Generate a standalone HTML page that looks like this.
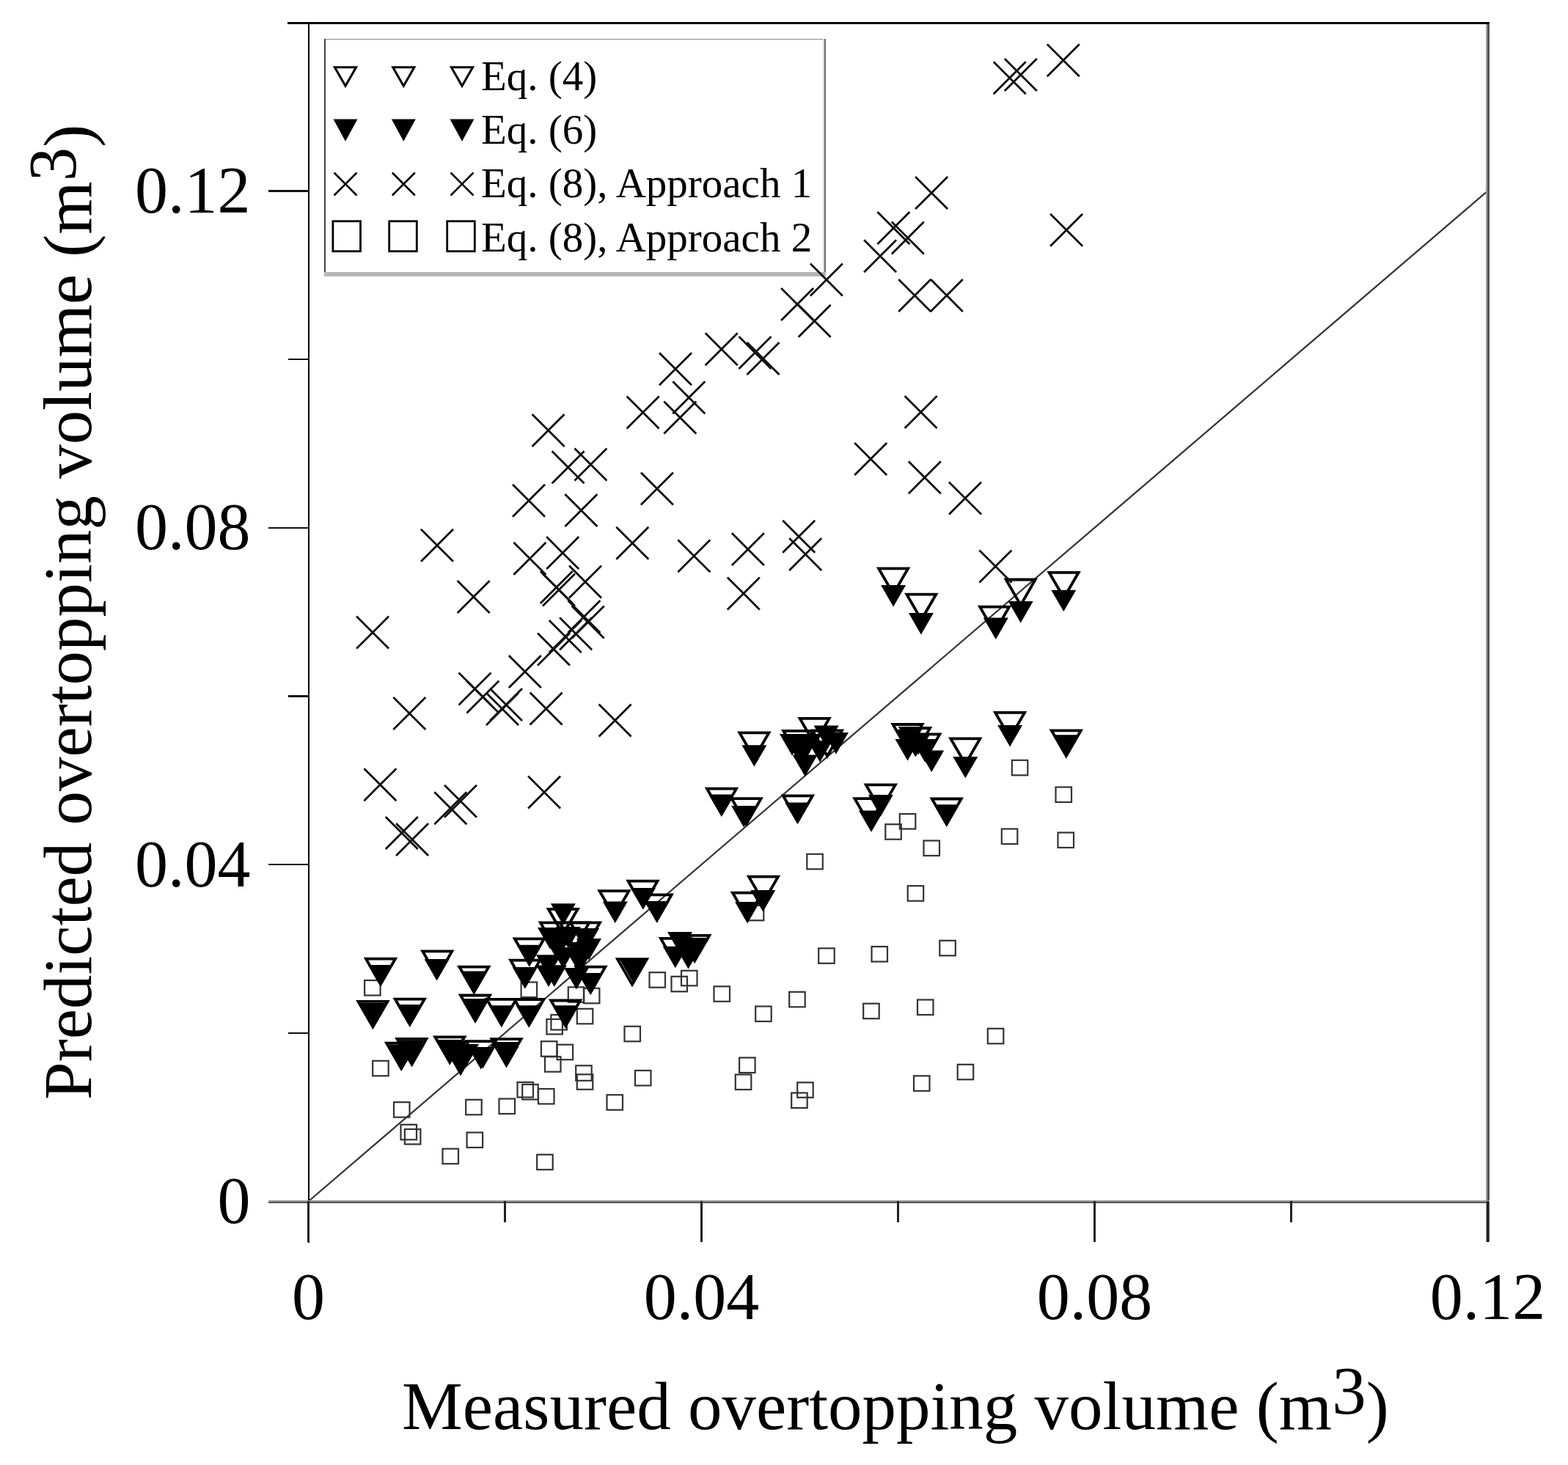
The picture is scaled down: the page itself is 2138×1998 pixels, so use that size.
<!DOCTYPE html>
<html><head><meta charset="utf-8"><title>Predicted vs measured overtopping volume</title>
<style>html,body{margin:0;padding:0;background:#fff;}body{width:2138px;height:1998px;overflow:hidden;}svg{display:block;}</style>
</head><body>
<svg width="2138" height="1998" viewBox="0 0 2138 1998">
<rect x="0" y="0" width="2138" height="1998" fill="#fff"/>
<g shape-rendering="crispEdges">
<rect x="443" y="53" width="682" height="321" fill="#fff" stroke="none"/>
<rect x="442" y="52.5" width="683" height="1.5" fill="#888"/>
<rect x="441.5" y="53" width="2.2" height="321" fill="#444"/>
<rect x="1121.5" y="53" width="2.3" height="320" fill="#d8d8d8"/>
<rect x="1123.8" y="53" width="2.6" height="320" fill="#6a6a6a"/>
<rect x="442" y="371.3" width="684" height="5.2" fill="#b6b6b6"/>
</g>
<path d="M456.4 91.8H485.6L471.0 117.2Z" fill="none" stroke="#000" stroke-width="3"/>
<path d="M535.7 91.8H564.9L550.3 117.2Z" fill="none" stroke="#000" stroke-width="3"/>
<path d="M615.4 91.8H644.6L630.0 117.2Z" fill="none" stroke="#000" stroke-width="3"/>
<path d="M454.5 162.6H487.5L471.0 192.8Z" fill="#000"/>
<path d="M533.8 162.6H566.8L550.3 192.8Z" fill="#000"/>
<path d="M613.5 162.6H646.5L630.0 192.8Z" fill="#000"/>
<path d="M455.5 235.5L486.5 266.5M455.5 266.5L486.5 235.5" stroke="#000" stroke-width="2.6" fill="none"/>
<path d="M534.8 235.5L565.8 266.5M534.8 266.5L565.8 235.5" stroke="#000" stroke-width="2.6" fill="none"/>
<path d="M614.5 235.5L645.5 266.5M614.5 266.5L645.5 235.5" stroke="#000" stroke-width="2.6" fill="none"/>
<rect x="453.9" y="301.7" width="37.6" height="41" fill="none" stroke="#000" stroke-width="2.8"/>
<rect x="530.7" y="301.7" width="37.6" height="41" fill="none" stroke="#000" stroke-width="2.8"/>
<rect x="609.7" y="301.7" width="37.6" height="41" fill="none" stroke="#000" stroke-width="2.8"/>
<text x="656" y="122.9" font-family="'Liberation Serif', 'Times New Roman', serif" font-size="57" fill="#000">Eq. (4)</text>
<text x="656" y="195.8" font-family="'Liberation Serif', 'Times New Roman', serif" font-size="57" fill="#000">Eq. (6)</text>
<text x="656" y="269.3" font-family="'Liberation Serif', 'Times New Roman', serif" font-size="57" fill="#000">Eq. (8), Approach 1</text>
<text x="656" y="343" font-family="'Liberation Serif', 'Times New Roman', serif" font-size="57" fill="#000">Eq. (8), Approach 2</text>
<line x1="420.5" y1="1638.5" x2="2028.5" y2="260.3" stroke="#333" stroke-width="2.2"/>
<g fill="none" stroke="#333" stroke-width="2.2"><rect x="1379.8" y="1036.8" width="21.5" height="20.5"/><rect x="1439.5" y="1073.5" width="21.5" height="20.5"/><rect x="1226.8" y="1110.0" width="21.5" height="20.5"/><rect x="1207.3" y="1124.2" width="21.5" height="20.5"/><rect x="1259.5" y="1146.5" width="21.5" height="20.5"/><rect x="1365.8" y="1130.5" width="21.5" height="20.5"/><rect x="1442.5" y="1135.5" width="21.5" height="20.5"/><rect x="1237.7" y="1208.2" width="21.5" height="20.5"/><rect x="1100.3" y="1164.8" width="21.5" height="20.5"/><rect x="1019.8" y="1234.8" width="21.5" height="20.5"/><rect x="1116.2" y="1293.3" width="21.5" height="20.5"/><rect x="1188.5" y="1291.0" width="21.5" height="20.5"/><rect x="973.5" y="1345.3" width="21.5" height="20.5"/><rect x="1076.2" y="1352.8" width="21.5" height="20.5"/><rect x="1030.2" y="1372.5" width="21.5" height="20.5"/><rect x="1177.2" y="1368.7" width="21.5" height="20.5"/><rect x="1251.0" y="1363.5" width="21.5" height="20.5"/><rect x="1008.1" y="1442.5" width="21.5" height="20.5"/><rect x="1281.3" y="1282.8" width="21.5" height="20.5"/><rect x="1346.8" y="1402.8" width="21.5" height="20.5"/><rect x="1002.8" y="1465.5" width="21.5" height="20.5"/><rect x="1087.2" y="1476.3" width="21.5" height="20.5"/><rect x="1079.2" y="1490.5" width="21.5" height="20.5"/><rect x="1246.0" y="1467.3" width="21.5" height="20.5"/><rect x="1305.7" y="1451.8" width="21.5" height="20.5"/><rect x="885.5" y="1326.2" width="21.5" height="20.5"/><rect x="915.5" y="1331.8" width="21.5" height="20.5"/><rect x="929.0" y="1323.8" width="21.5" height="20.5"/><rect x="710.6" y="1339.5" width="21.5" height="20.5"/><rect x="774.8" y="1346.3" width="21.5" height="20.5"/><rect x="795.9" y="1347.8" width="21.5" height="20.5"/><rect x="745.4" y="1390.0" width="21.5" height="20.5"/><rect x="751.4" y="1384.0" width="21.5" height="20.5"/><rect x="786.8" y="1375.8" width="21.5" height="20.5"/><rect x="851.5" y="1399.8" width="21.5" height="20.5"/><rect x="737.9" y="1420.2" width="21.5" height="20.5"/><rect x="759.6" y="1424.7" width="21.5" height="20.5"/><rect x="743.0" y="1441.2" width="21.5" height="20.5"/><rect x="785.2" y="1453.3" width="21.5" height="20.5"/><rect x="786.8" y="1465.3" width="21.5" height="20.5"/><rect x="866.0" y="1460.0" width="21.5" height="20.5"/><rect x="705.5" y="1476.0" width="21.5" height="20.5"/><rect x="712.2" y="1479.0" width="21.5" height="20.5"/><rect x="734.0" y="1485.0" width="21.5" height="20.5"/><rect x="680.5" y="1498.5" width="21.5" height="20.5"/><rect x="827.5" y="1493.2" width="21.5" height="20.5"/><rect x="732.2" y="1574.7" width="21.5" height="20.5"/><rect x="497.1" y="1337.0" width="21.5" height="20.5"/><rect x="508.2" y="1446.8" width="21.5" height="20.5"/><rect x="537.0" y="1503.2" width="21.5" height="20.5"/><rect x="635.2" y="1499.8" width="21.5" height="20.5"/><rect x="546.5" y="1533.8" width="21.5" height="20.5"/><rect x="551.9" y="1540.0" width="21.5" height="20.5"/><rect x="636.6" y="1544.5" width="21.5" height="20.5"/><rect x="603.5" y="1566.7" width="21.5" height="20.5"/></g>
<g fill="none" stroke="#000" stroke-width="3.8" stroke-linejoin="miter" stroke-miterlimit="4"><path d="M1198.1 775.4H1238.1L1218.1 810.0Z"/><path d="M1236.3 810.7H1276.3L1256.3 845.3Z"/><path d="M1371.7 790.5H1411.7L1391.7 825.1Z"/><path d="M1336.1 827.6H1376.1L1356.1 862.2Z"/><path d="M1430.6 780.8H1470.6L1450.6 815.4Z"/><path d="M1357.1 971.9H1397.1L1377.1 1006.5Z"/><path d="M1296.3 1007.4H1336.3L1316.3 1042.0Z"/><path d="M1433.8 996.3H1473.8L1453.8 1030.9Z"/><path d="M1270.7 1089.5H1310.7L1290.7 1124.1Z"/><path d="M1217.5 988.0H1257.5L1237.5 1022.6Z"/><path d="M1228.1 993.0H1268.1L1248.1 1027.6Z"/><path d="M1241.3 1001.4H1281.3L1261.3 1036.0Z"/><path d="M1180.8 1070.4H1220.8L1200.8 1105.0Z"/><path d="M1008.4 999.4H1048.4L1028.4 1034.0Z"/><path d="M1090.6 979.9H1130.6L1110.6 1014.5Z"/><path d="M1068.3 996.9H1108.3L1088.3 1031.5Z"/><path d="M1108.0 996.5H1148.0L1128.0 1031.1Z"/><path d="M964.0 1075.6H1004.0L984.0 1110.2Z"/><path d="M997.7 1089.1H1037.7L1017.7 1123.7Z"/><path d="M1067.9 1085.3H1107.9L1087.9 1119.9Z"/><path d="M1165.4 1089.1H1205.4L1185.4 1123.7Z"/><path d="M1021.0 1195.7H1061.0L1041.0 1230.3Z"/><path d="M999.0 1217.6H1039.0L1019.0 1252.2Z"/><path d="M856.5 1201.6H896.5L876.5 1236.2Z"/><path d="M817.5 1215.2H857.5L837.5 1249.8Z"/><path d="M875.7 1220.4H915.7L895.7 1255.0Z"/><path d="M900.9 1279.9H940.9L920.9 1314.5Z"/><path d="M927.2 1275.9H967.2L947.2 1310.5Z"/><path d="M842.0 1308.2H882.0L862.0 1342.8Z"/><path d="M747.7 1239.8H787.7L767.7 1274.4Z"/><path d="M736.9 1258.3H776.9L756.9 1292.9Z"/><path d="M763.4 1258.3H803.4L783.4 1292.9Z"/><path d="M778.0 1258.3H818.0L798.0 1292.9Z"/><path d="M701.8 1280.3H741.8L721.8 1314.9Z"/><path d="M696.2 1309.6H736.2L716.2 1344.2Z"/><path d="M785.4 1318.6H825.4L805.4 1353.2Z"/><path d="M701.5 1363.0H741.5L721.5 1397.6Z"/><path d="M663.8 1362.9H703.8L683.8 1397.5Z"/><path d="M751.2 1364.5H791.2L771.2 1399.1Z"/><path d="M670.5 1417.2H710.5L690.5 1451.8Z"/><path d="M499.0 1307.7H539.0L519.0 1342.3Z"/><path d="M576.3 1297.4H616.3L596.3 1332.0Z"/><path d="M626.3 1318.7H666.3L646.3 1353.3Z"/><path d="M488.4 1365.9H528.4L508.4 1400.5Z"/><path d="M538.8 1362.6H578.8L558.8 1397.2Z"/><path d="M628.0 1357.5H668.0L648.0 1392.1Z"/><path d="M541.4 1416.9H581.4L561.4 1451.5Z"/><path d="M527.1 1422.7H567.1L547.1 1457.3Z"/><path d="M593.3 1414.3H633.3L613.3 1448.9Z"/><path d="M635.7 1420.1H675.7L655.7 1454.7Z"/></g>
<g fill="#000"><path d="M1201.1 798.0H1235.1L1218.1 827.4Z"/><path d="M1238.9 836.0H1272.9L1255.9 865.4Z"/><path d="M1374.7 820.0H1408.7L1391.7 849.4Z"/><path d="M1340.8 842.6H1374.8L1357.8 872.0Z"/><path d="M1433.3 804.7H1467.3L1450.3 834.1Z"/><path d="M1360.1 989.0H1394.1L1377.1 1018.4Z"/><path d="M1299.3 1031.9H1333.3L1316.3 1061.3Z"/><path d="M1436.8 1002.3H1470.8L1453.8 1031.7Z"/><path d="M1273.7 1097.3H1307.7L1290.7 1126.7Z"/><path d="M1220.5 1008.0H1254.5L1237.5 1037.4Z"/><path d="M1231.3 1003.0H1265.3L1248.3 1032.4Z"/><path d="M1253.2 1023.5H1287.2L1270.2 1052.9Z"/><path d="M1011.4 1016.2H1045.4L1028.4 1045.6Z"/><path d="M1071.3 1007.0H1105.3L1088.3 1036.4Z"/><path d="M1080.7 1029.5H1114.7L1097.7 1058.9Z"/><path d="M1109.6 989.5H1143.6L1126.6 1018.9Z"/><path d="M966.2 1083.4H1000.2L983.2 1112.8Z"/><path d="M997.2 1099.0H1031.2L1014.2 1128.4Z"/><path d="M1070.2 1094.4H1104.2L1087.2 1123.8Z"/><path d="M1171.0 1105.4H1205.0L1188.0 1134.8Z"/><path d="M1023.3 1214.0H1057.3L1040.3 1243.4Z"/><path d="M1002.1 1230.0H1036.1L1019.1 1259.4Z"/><path d="M860.0 1211.0H894.0L877.0 1240.4Z"/><path d="M821.8 1229.5H855.8L838.8 1258.9Z"/><path d="M878.9 1228.9H912.9L895.9 1258.3Z"/><path d="M910.0 1271.0H944.0L927.0 1300.4Z"/><path d="M903.8 1290.8H937.8L920.8 1320.2Z"/><path d="M921.5 1292.0H955.5L938.5 1321.4Z"/><path d="M845.7 1310.0H879.7L862.7 1339.4Z"/><path d="M750.9 1232.3H784.9L767.9 1261.7Z"/><path d="M758.0 1264.0H792.0L775.0 1293.4Z"/><path d="M783.0 1266.0H817.0L800.0 1295.4Z"/><path d="M773.0 1285.0H807.0L790.0 1314.4Z"/><path d="M704.8 1288.7H738.8L721.8 1318.1Z"/><path d="M698.7 1319.0H732.7L715.7 1348.4Z"/><path d="M731.0 1316.6H765.0L748.0 1346.0Z"/><path d="M738.8 1316.6H772.8L755.8 1346.0Z"/><path d="M768.9 1320.0H802.9L785.9 1349.4Z"/><path d="M787.9 1327.0H821.9L804.9 1356.4Z"/><path d="M703.7 1371.3H737.7L720.7 1400.7Z"/><path d="M666.8 1371.3H700.8L683.8 1400.7Z"/><path d="M754.9 1371.3H788.9L771.9 1400.7Z"/><path d="M673.5 1421.0H707.5L690.5 1450.4Z"/><path d="M673.5 1427.0H707.5L690.5 1456.4Z"/><path d="M501.8 1316.0H535.8L518.8 1345.4Z"/><path d="M578.6 1308.0H612.6L595.6 1337.4Z"/><path d="M629.0 1324.6H663.0L646.0 1354.0Z"/><path d="M491.4 1368.0H525.4L508.4 1397.4Z"/><path d="M541.2 1370.0H575.2L558.2 1399.4Z"/><path d="M631.0 1362.0H665.0L648.0 1391.4Z"/><path d="M545.0 1425.0H579.0L562.0 1454.4Z"/><path d="M530.8 1430.5H564.8L547.8 1459.9Z"/><path d="M596.3 1418.0H630.3L613.3 1447.4Z"/><path d="M611.0 1438.0H645.0L628.0 1467.4Z"/><path d="M641.3 1428.0H675.3L658.3 1457.4Z"/><path d="M740.0 1265.0H774.0L757.0 1294.4Z"/><path d="M603.0 1420.0H637.0L620.0 1449.4Z"/><path d="M733.0 1265.0H767.0L750.0 1294.4Z"/><path d="M731.0 1302.3H765.0L748.0 1331.7Z"/><path d="M751.0 1292.0H785.0L768.0 1321.4Z"/><path d="M786.0 1280.0H820.0L803.0 1309.4Z"/><path d="M773.0 1298.0H807.0L790.0 1327.4Z"/><path d="M743.0 1280.0H777.0L760.0 1309.4Z"/><path d="M930.0 1279.0H964.0L947.0 1308.4Z"/><path d="M1223.0 995.0H1257.0L1240.0 1024.4Z"/><path d="M1235.0 1000.0H1269.0L1252.0 1029.4Z"/><path d="M1245.0 1008.0H1279.0L1262.0 1037.4Z"/><path d="M1063.0 1001.0H1097.0L1080.0 1030.4Z"/><path d="M1083.0 1001.0H1117.0L1100.0 1030.4Z"/><path d="M1123.0 999.0H1157.0L1140.0 1028.4Z"/><path d="M1101.0 1010.0H1135.0L1118.0 1039.4Z"/><path d="M1183.8 1084.0H1217.8L1200.8 1113.4Z"/><path d="M1076.0 1016.0H1110.0L1093.0 1045.4Z"/><path d="M530.1 1424.5H564.1L547.1 1453.9Z"/><path d="M544.4 1418.5H578.4L561.4 1447.9Z"/><path d="M619.0 1424.0H653.0L636.0 1453.4Z"/></g>
<g fill="none" stroke="#111" stroke-width="2.8"><path d="M1427.8 60.3L1471.8 104.3M1427.8 104.3L1471.8 60.3"/><path d="M1354.7 84.2L1398.7 128.2M1354.7 128.2L1398.7 84.2"/><path d="M1369.8 79.9L1413.8 123.9M1369.8 123.9L1413.8 79.9"/><path d="M1248.1 241.1L1292.1 285.1M1248.1 285.1L1292.1 241.1"/><path d="M1196.4 288.9L1240.4 332.9M1196.4 332.9L1240.4 288.9"/><path d="M1215.8 302.5L1259.8 346.5M1215.8 346.5L1259.8 302.5"/><path d="M1178.1 327.2L1222.1 371.2M1178.1 371.2L1222.1 327.2"/><path d="M1104.9 359.5L1148.9 403.5M1104.9 403.5L1148.9 359.5"/><path d="M1225.2 380.9L1269.2 424.9M1225.2 424.9L1269.2 380.9"/><path d="M1268.8 380.9L1312.8 424.9M1268.8 424.9L1312.8 380.9"/><path d="M1432.1 291.7L1476.1 335.7M1432.1 335.7L1476.1 291.7"/><path d="M1088.6 415.8L1132.6 459.8M1088.6 459.8L1132.6 415.8"/><path d="M1233.6 540.1L1277.6 584.1M1233.6 584.1L1277.6 540.1"/><path d="M1165.2 604.1L1209.2 648.1M1165.2 648.1L1209.2 604.1"/><path d="M1238.8 629.3L1282.8 673.3M1238.8 673.3L1282.8 629.3"/><path d="M1294.0 657.4L1338.0 701.4M1294.0 701.4L1338.0 657.4"/><path d="M1065.1 393.0L1109.1 437.0M1065.1 437.0L1109.1 393.0"/><path d="M961.7 454.3L1005.7 498.3M961.7 498.3L1005.7 454.3"/><path d="M1007.5 459.1L1051.5 503.1M1007.5 503.1L1051.5 459.1"/><path d="M1018.6 467.0L1062.6 511.0M1018.6 511.0L1062.6 467.0"/><path d="M899.0 481.2L943.0 525.2M899.0 525.2L943.0 481.2"/><path d="M854.6 540.4L898.6 584.4M854.6 584.4L898.6 540.4"/><path d="M917.3 520.3L961.3 564.3M917.3 564.3L961.3 520.3"/><path d="M905.3 547.4L949.3 591.4M905.3 591.4L949.3 547.4"/><path d="M725.6 564.9L769.6 608.9M725.6 608.9L769.6 564.9"/><path d="M752.6 615.3L796.6 659.3M752.6 659.3L796.6 615.3"/><path d="M783.4 611.5L827.4 655.5M783.4 655.5L827.4 611.5"/><path d="M699.0 660.7L743.0 704.7M699.0 704.7L743.0 660.7"/><path d="M770.4 674.0L814.4 718.0M770.4 718.0L814.4 674.0"/><path d="M873.9 644.6L917.9 688.6M873.9 688.6L917.9 644.6"/><path d="M840.3 718.8L884.3 762.8M840.3 762.8L884.3 718.8"/><path d="M924.3 736.3L968.3 780.3M924.3 780.3L968.3 736.3"/><path d="M700.4 739.8L744.4 783.8M700.4 783.8L744.4 739.8"/><path d="M745.2 732.1L789.2 776.1M745.2 776.1L789.2 732.1"/><path d="M574.0 721.8L618.0 765.8M574.0 765.8L618.0 721.8"/><path d="M623.7 791.9L667.7 835.9M623.7 835.9L667.7 791.9"/><path d="M486.1 840.6L530.1 884.6M486.1 884.6L530.1 840.6"/><path d="M536.3 951.0L580.3 995.0M536.3 995.0L580.3 951.0"/><path d="M625.5 917.5L669.5 961.5M625.5 961.5L669.5 917.5"/><path d="M636.4 928.4L680.4 972.4M636.4 972.4L680.4 928.4"/><path d="M663.0 945.0L707.0 989.0M663.0 989.0L707.0 945.0"/><path d="M668.0 939.0L712.0 983.0M668.0 983.0L712.0 939.0"/><path d="M693.8 893.9L737.8 937.9M693.8 937.9L737.8 893.9"/><path d="M722.6 944.6L766.6 988.6M722.6 988.6L766.6 944.6"/><path d="M496.4 1048.2L540.4 1092.2M496.4 1092.2L540.4 1048.2"/><path d="M525.8 1114.1L569.8 1158.1M525.8 1158.1L569.8 1114.1"/><path d="M540.1 1123.0L584.1 1167.0M540.1 1167.0L584.1 1123.0"/><path d="M592.3 1080.3L636.3 1124.3M592.3 1124.3L636.3 1080.3"/><path d="M606.0 1070.8L650.0 1114.8M606.0 1114.8L650.0 1070.8"/><path d="M720.1 1058.6L764.1 1102.6M720.1 1102.6L764.1 1058.6"/><path d="M997.9 727.1L1041.9 771.1M997.9 771.1L1041.9 727.1"/><path d="M1067.2 709.8L1111.2 753.8M1067.2 753.8L1111.2 709.8"/><path d="M1076.2 733.9L1120.2 777.9M1076.2 777.9L1120.2 733.9"/><path d="M991.8 787.4L1035.8 831.4M991.8 831.4L1035.8 787.4"/><path d="M1335.4 750.4L1379.4 794.4M1335.4 794.4L1379.4 750.4"/><path d="M736.8 779.0L780.8 823.0M736.8 823.0L780.8 779.0"/><path d="M740.0 782.5L784.0 826.5M740.0 826.5L784.0 782.5"/><path d="M776.0 771.5L820.0 815.5M776.0 815.5L820.0 771.5"/><path d="M774.4 819.0L818.4 863.0M774.4 863.0L818.4 819.0"/><path d="M779.7 826.5L823.7 870.5M779.7 870.5L823.7 826.5"/><path d="M763.1 842.3L807.1 886.3M763.1 886.3L807.1 842.3"/><path d="M748.8 846.1L792.8 890.1M748.8 890.1L792.8 846.1"/><path d="M733.0 863.4L777.0 907.4M733.0 907.4L777.0 863.4"/><path d="M816.6 960.6L860.6 1004.6M816.6 1004.6L860.6 960.6"/></g>
<g shape-rendering="crispEdges">
<rect x="392" y="30" width="1639" height="3" fill="#000"/>
<rect x="419.5" y="30" width="2.6" height="1665" fill="#000"/>
<rect x="2026" y="33" width="2" height="1661" fill="#a0a0a0"/>
<rect x="2028" y="33" width="3" height="1661" fill="#555"/>
<rect x="366" y="1636.5" width="1665" height="2" fill="#999"/>
<rect x="366" y="1638.5" width="1665" height="2.2" fill="#555"/>
<rect x="393" y="1407.6" width="28" height="2.4" fill="#111"/>
<rect x="366" y="1177.9" width="55" height="2.4" fill="#111"/>
<rect x="393" y="948.2" width="28" height="2.4" fill="#111"/>
<rect x="366" y="718.5" width="55" height="2.4" fill="#111"/>
<rect x="393" y="488.8" width="28" height="2.4" fill="#111"/>
<rect x="366" y="259.1" width="55" height="2.4" fill="#111"/>
<rect x="419.3" y="1638" width="2.4" height="56" fill="#222"/>
<rect x="687.3" y="1638" width="2.4" height="28.5" fill="#222"/>
<rect x="955.3" y="1638" width="2.4" height="56" fill="#222"/>
<rect x="1223.3" y="1638" width="2.4" height="28.5" fill="#222"/>
<rect x="1491.3" y="1638" width="2.4" height="56" fill="#222"/>
<rect x="1759.3" y="1638" width="2.4" height="28.5" fill="#222"/>
<rect x="2027.3" y="1638" width="2.4" height="56" fill="#222"/>
</g>
<text x="341.5" y="1668.0" font-family="'Liberation Serif', 'Times New Roman', serif" font-size="90" text-anchor="end" fill="#000">0</text>
<text x="341.5" y="1208.6" font-family="'Liberation Serif', 'Times New Roman', serif" font-size="90" text-anchor="end" fill="#000">0.04</text>
<text x="341.5" y="749.2" font-family="'Liberation Serif', 'Times New Roman', serif" font-size="90" text-anchor="end" fill="#000">0.08</text>
<text x="341.5" y="289.8" font-family="'Liberation Serif', 'Times New Roman', serif" font-size="90" text-anchor="end" fill="#000">0.12</text>
<text x="420.5" y="1799" font-family="'Liberation Serif', 'Times New Roman', serif" font-size="90" text-anchor="middle" fill="#000">0</text>
<text x="956.5" y="1799" font-family="'Liberation Serif', 'Times New Roman', serif" font-size="90" text-anchor="middle" fill="#000">0.04</text>
<text x="1492.5" y="1799" font-family="'Liberation Serif', 'Times New Roman', serif" font-size="90" text-anchor="middle" fill="#000">0.08</text>
<text x="2028.5" y="1799" font-family="'Liberation Serif', 'Times New Roman', serif" font-size="90" text-anchor="middle" fill="#000">0.12</text>
<text x="548" y="1949" font-family="'Liberation Serif', 'Times New Roman', serif" font-size="93" fill="#000">Measured overtopping volume (m<tspan dy="-21.5">3</tspan><tspan dy="21.5">)</tspan></text>
<text transform="translate(124 1500) rotate(-90)" x="0" y="0" font-family="'Liberation Serif', 'Times New Roman', serif" font-size="93" fill="#000">Predicted overtopping volume (m<tspan dy="-21.5">3</tspan><tspan dy="21.5">)</tspan></text>
</svg>
</body></html>
